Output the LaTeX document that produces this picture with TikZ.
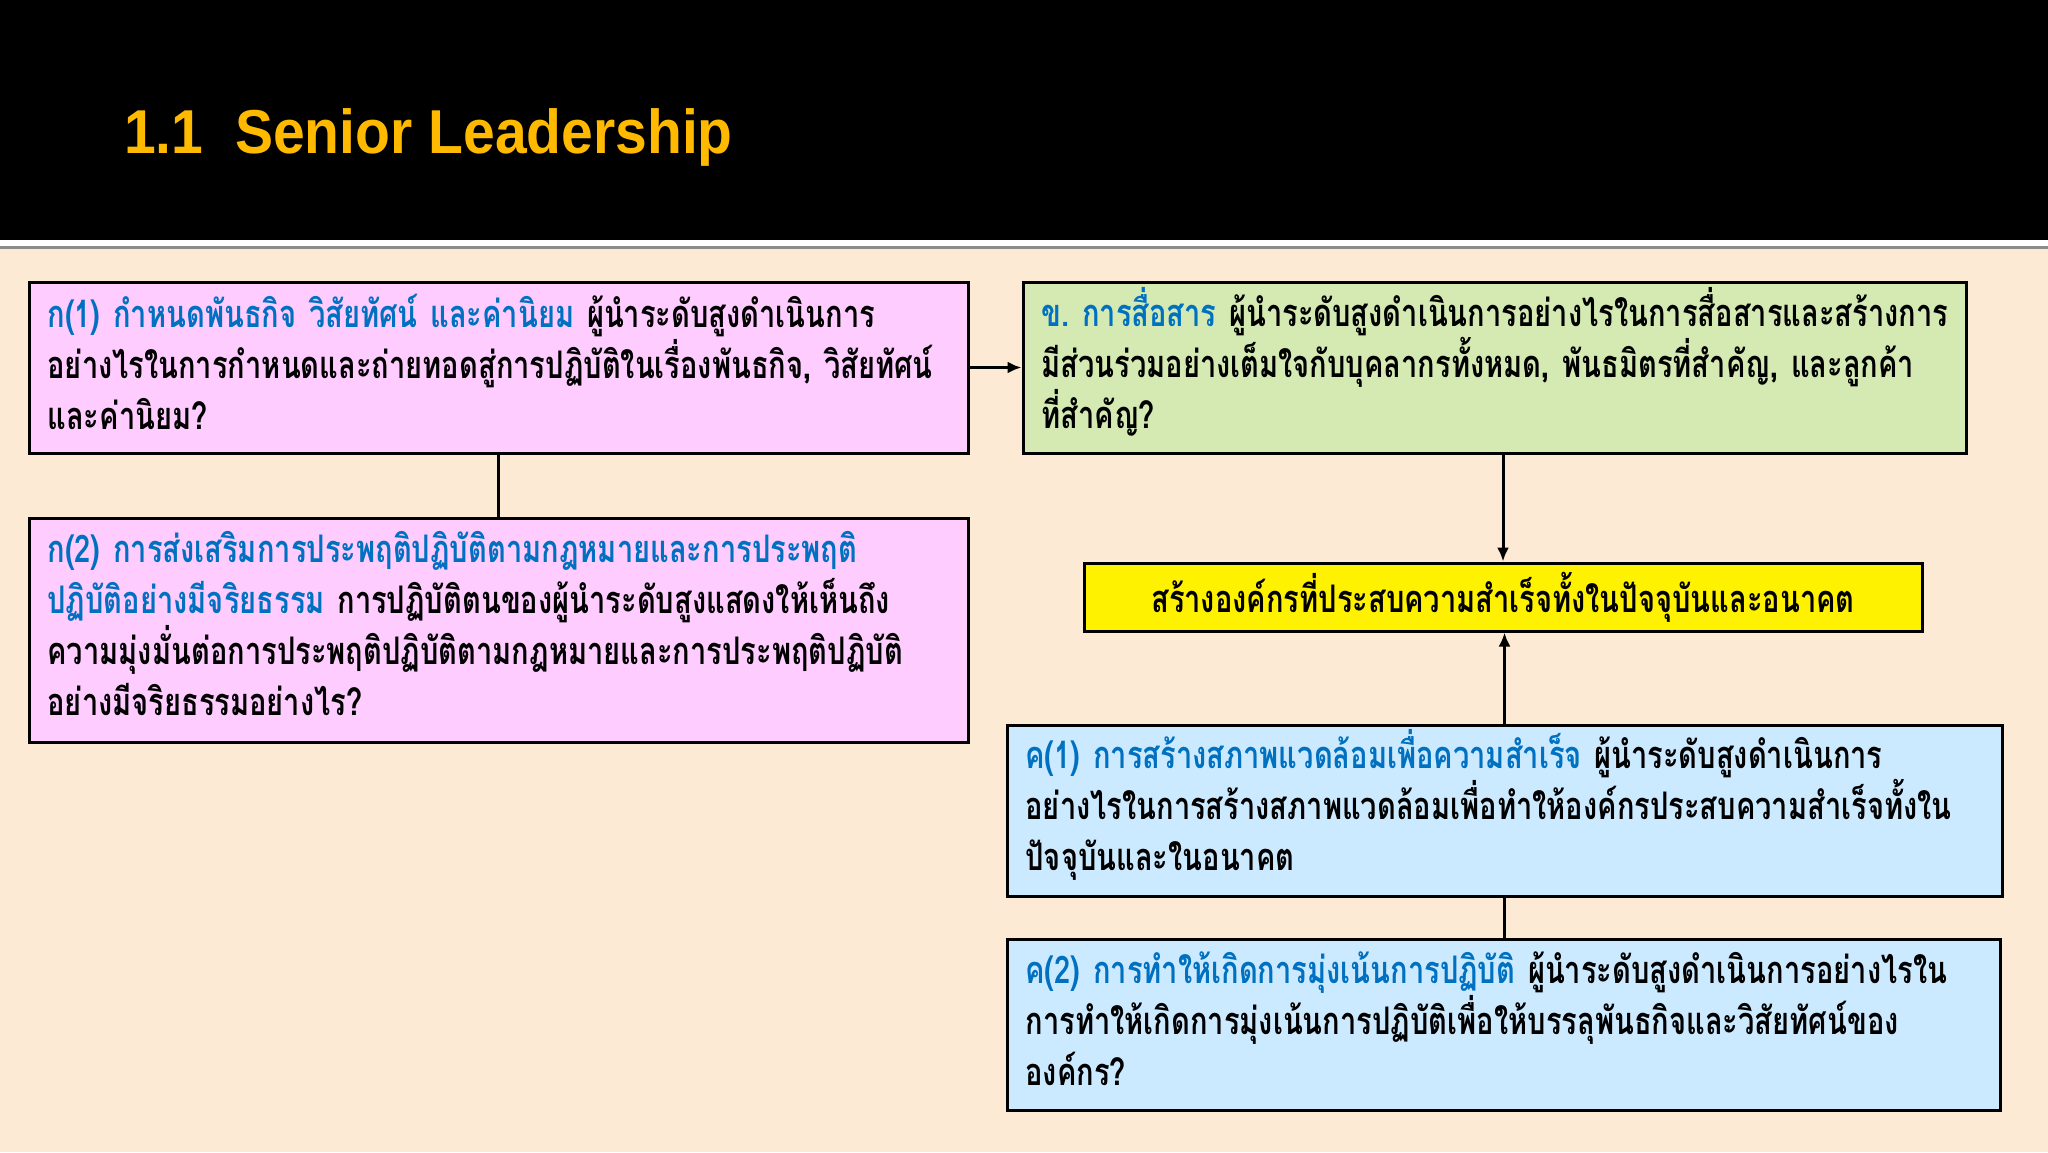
\documentclass[tikz,border=0pt]{standalone}
\usepackage{fontspec}
\usetikzlibrary{arrows.meta}
\newfontfamily\thaifont[Script=Thai,FakeStretch=0.765]{Loma}
\newfontfamily\titlefont[FakeStretch=0.92]{Liberation Sans}
\definecolor{bgpeach}{RGB}{253,234,212}
\definecolor{pinkfill}{RGB}{255,204,255}
\definecolor{greenfill}{RGB}{212,234,178}
\definecolor{bluefill}{RGB}{204,234,255}
\definecolor{lblue}{RGB}{0,112,192}
\definecolor{gold}{RGB}{255,186,0}
\tikzset{
  box/.style={draw=black, line width=3pt, rectangle, align=left, inner xsep=17pt, inner ysep=0pt,
    font=\thaifont\bfseries\fontsize{38}{51}\selectfont},
  raised/.style={execute at end node={\par\vspace*{12pt}}},
  conn/.style={draw=black, line width=3pt},
  arr/.style={conn, -{Latex[length=14pt,width=12pt]}}
}
\newcommand{\lbl}[1]{\textcolor{lblue}{#1}}
\begin{document}
\begin{tikzpicture}[x=1pt,y=-1pt]
\useasboundingbox (0,0) rectangle (2048,1152);
\fill[bgpeach] (0,0) rectangle (2048,1152);
\fill[black] (0,0) rectangle (2048,240);
\fill[white] (0,240) rectangle (2048,246);
\fill[black!45] (0,246) rectangle (2048,249);

\node[anchor=base west, inner sep=0pt, text=gold, font=\titlefont\bfseries\fontsize{62}{70}\selectfont] (title) at (124,153) {1.1\ \ Senior Leadership};

\node[box, raised, fill=pinkfill, minimum width=939pt, minimum height=171pt, text width=902pt] (k1) at (498.5,367.5)
{\lbl{ก(1)~กำหนดพันธกิจ~วิสัยทัศน์~และค่านิยม}~ผู้นำระดับสูงดำเนินการ\\อย่างไรในการกำหนดและถ่ายทอดสู่การปฏิบัติในเรื่องพันธกิจ,~วิสัยทัศน์\\และค่านิยม?};

\node[box, raised, fill=pinkfill, minimum width=939pt, minimum height=224pt, text width=902pt] (k2) at (498.5,630)
{\lbl{ก(2)~การส่งเสริมการประพฤติปฏิบัติตามกฎหมายและการประพฤติ}\\\lbl{ปฏิบัติอย่างมีจริยธรรม}~การปฏิบัติตนของผู้นำระดับสูงแสดงให้เห็นถึง\\ความมุ่งมั่นต่อการประพฤติปฏิบัติตามกฎหมายและการประพฤติปฏิบัติ\\อย่างมีจริยธรรมอย่างไร?};

\node[box, raised, fill=greenfill, minimum width=943pt, minimum height=171pt, text width=906pt] (kh) at (1494.5,367.5)
{\lbl{ข.~การสื่อสาร}~ผู้นำระดับสูงดำเนินการอย่างไรในการสื่อสารและสร้างการ\\มีส่วนร่วมอย่างเต็มใจกับบุคลากรทั้งหมด,~พันธมิตรที่สำคัญ,~และลูกค้า\\ที่สำคัญ?};

\node[box, fill=yellow, align=center, minimum width=838pt, minimum height=68pt] (goal) at (1503,597)
{สร้างองค์กรที่ประสบความสำเร็จทั้งในปัจจุบันและอนาคต};

\node[box, raised, fill=bluefill, minimum width=995pt, minimum height=171pt, text width=958pt] (c1) at (1504.5,810.5)
{\lbl{ค(1)~การสร้างสภาพแวดล้อมเพื่อความสำเร็จ}~ผู้นำระดับสูงดำเนินการ\\อย่างไรในการสร้างสภาพแวดล้อมเพื่อทำให้องค์กรประสบความสำเร็จทั้งใน\\ปัจจุบันและในอนาคต};

\node[box, raised, fill=bluefill, minimum width=993pt, minimum height=171pt, text width=956pt] (c2) at (1503.5,1024.5)
{\lbl{ค(2)~การทำให้เกิดการมุ่งเน้นการปฏิบัติ}~ผู้นำระดับสูงดำเนินการอย่างไรใน\\การทำให้เกิดการมุ่งเน้นการปฏิบัติเพื่อให้บรรลุพันธกิจและวิสัยทัศน์ของ\\องค์กร?};

\draw[conn] (k1.south) -- (k2.north);
\draw[arr] (k1.east) -- (kh.west);
\draw[arr] (goal.north |- kh.south) -- (goal.north);
\draw[arr] (c1.north) -- (c1.north |- goal.south);
\draw[conn] (c1.south) -- (c1.south |- c2.north);
\end{tikzpicture}
\end{document}
